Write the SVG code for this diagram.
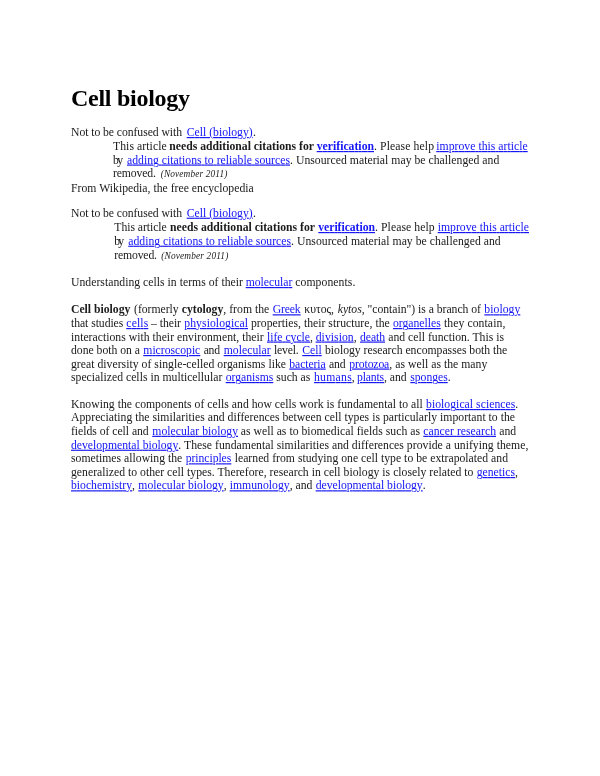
<svg xmlns="http://www.w3.org/2000/svg" width="600" height="776" viewBox="0 0 600 776">
<style>
text{font-family:"Liberation Serif","Times New Roman",serif;font-size:11.7px;fill:#1a1a1a;white-space:pre}
.t{font-size:24px;font-weight:bold;fill:#000}
.b{font-weight:bold}
.i{font-style:italic}
.d{font-style:italic;font-size:9.3px}
.a{fill:#1414f5;text-decoration:underline}
</style>
<defs><filter id="soft" x="0" y="0" width="100%" height="100%"><feGaussianBlur stdDeviation="0.3"/></filter></defs>
<rect width="600" height="776" fill="#fff"/>
<g filter="url(#soft)">
<text class="t" x="71" y="106" textLength="119">Cell biology</text>

<g id="notice-1">
<text x="71" y="136" textLength="111">Not to be confused with</text><text class="a" x="186.7" y="136" textLength="66">Cell (biology)</text><text x="253" y="136">.</text>
<text x="113" y="150" textLength="53.7">This article</text><text class="b" x="169.3" y="150" textLength="144.7">needs additional citations for</text><text class="a b" x="316.7" y="150" textLength="57.3">verification</text><text x="374" y="150" textLength="60">. Please help</text><text class="a" x="436.3" y="150" textLength="91.4">improve this article</text>
<text x="113" y="163.5" textLength="10">by</text><text class="a" x="127" y="163.5" textLength="163">adding citations to reliable sources</text><text x="290" y="163.5" textLength="209.3">. Unsourced material may be challenged and</text>
<text x="113" y="177.3" textLength="43">removed.</text><text class="d" x="160.7" y="177.3" textLength="66.6">(November 2011)</text>
<text x="71" y="191.7" textLength="182.7">From Wikipedia, the free encyclopedia</text>
</g>

<g id="notice-2">
<text x="71" y="216.7" textLength="111">Not to be confused with</text><text class="a" x="186.7" y="216.7" textLength="66">Cell (biology)</text><text x="253" y="216.7">.</text>
<text x="114.3" y="231" textLength="52.4">This article</text><text class="b" x="170" y="231" textLength="145">needs additional citations for</text><text class="a b" x="318.3" y="231" textLength="56.7">verification</text><text x="375" y="231" textLength="59.7">. Please help</text><text class="a" x="437.7" y="231" textLength="91.3">improve this article</text>
<text x="114.3" y="244.7" textLength="9.7">by</text><text class="a" x="128.3" y="244.7" textLength="162.7">adding citations to reliable sources</text><text x="291" y="244.7" textLength="209.7">. Unsourced material may be challenged and</text>
<text x="114.3" y="258.7" textLength="42.7">removed.</text><text class="d" x="161.3" y="258.7" textLength="67">(November 2011)</text>
</g>

<g id="caption">
<text x="71" y="286" textLength="172">Understanding cells in terms of their</text><text class="a" x="245.7" y="286" textLength="46.6">molecular</text><text x="295.3" y="286" textLength="60">components.</text>
</g>

<g id="paragraph-1">
<text class="b" x="71" y="313.3" textLength="59.3">Cell biology</text><text x="134" y="313.3" textLength="44.7">(formerly</text><text class="b" x="181.7" y="313.3" textLength="41.6">cytology</text><text x="223.3" y="313.3" textLength="46">, from the</text><text class="a" x="272.7" y="313.3" textLength="28">Greek</text><text x="304.3" y="313.3" textLength="29.7">κυτος,</text><text class="i" x="337.7" y="313.3" textLength="24">kytos</text><text x="361.7" y="313.3" textLength="119.3">, "contain") is a branch of</text><text class="a" x="484.3" y="313.3" textLength="36">biology</text>
<text x="71" y="327" textLength="52.3">that studies</text><text class="a" x="126.3" y="327" textLength="22">cells</text><text x="151" y="327" textLength="30">– their</text><text class="a" x="184.3" y="327" textLength="63.7">physiological</text><text x="251" y="327" textLength="138.7">properties, their structure, the</text><text class="a" x="393" y="327" textLength="47.7">organelles</text><text x="444" y="327" textLength="61.3">they contain,</text>
<text x="71" y="340.5" textLength="192.7">interactions with their environment, their</text><text class="a" x="267" y="340.5" textLength="43">life cycle</text><text x="310" y="340.5">,</text><text class="a" x="315.7" y="340.5" textLength="38">division</text><text x="353.7" y="340.5">,</text><text class="a" x="360" y="340.5" textLength="25">death</text><text x="388.3" y="340.5" textLength="115.7">and cell function. This is</text>
<text x="71" y="354" textLength="69">done both on a</text><text class="a" x="143.3" y="354" textLength="57">microscopic</text><text x="203.7" y="354" textLength="16.3">and</text><text class="a" x="223.7" y="354" textLength="47">molecular</text><text x="274" y="354" textLength="24.7">level.</text><text class="a" x="302.3" y="354" textLength="19.4">Cell</text><text x="325" y="354" textLength="182.3">biology research encompasses both the</text>
<text x="71" y="367.5" textLength="215">great diversity of single-celled organisms like</text><text class="a" x="289.3" y="367.5" textLength="36.4">bacteria</text><text x="329" y="367.5" textLength="16.7">and</text><text class="a" x="349.3" y="367.5" textLength="40">protozoa</text><text x="389.3" y="367.5" textLength="98">, as well as the many</text>
<text x="71" y="381" textLength="151.3">specialized cells in multicellular</text><text class="a" x="225.7" y="381" textLength="47.6">organisms</text><text x="276.3" y="381" textLength="34">such as</text><text class="a" x="314" y="381" textLength="37.7">humans</text><text x="351.7" y="381">,</text><text class="a" x="357" y="381" textLength="27">plants</text><text x="384" y="381" textLength="22.7">, and</text><text class="a" x="410.3" y="381" textLength="37.4">sponges</text><text x="447.7" y="381">.</text>
</g>

<g id="paragraph-2">
<text x="71" y="408" textLength="351.7">Knowing the components of cells and how cells work is fundamental to all</text><text class="a" x="426" y="408" textLength="89.3">biological sciences</text><text x="515.3" y="408">.</text>
<text x="71" y="421.3" textLength="444">Appreciating the similarities and differences between cell types is particularly important to the</text>
<text x="71" y="434.8" textLength="77.7">fields of cell and</text><text class="a" x="152.3" y="434.8" textLength="85.7">molecular biology</text><text x="240.7" y="434.8" textLength="179.3">as well as to biomedical fields such as</text><text class="a" x="423.3" y="434.8" textLength="72.7">cancer research</text><text x="499.3" y="434.8" textLength="16.7">and</text>
<text class="a" x="71" y="448.7" textLength="107.3">developmental biology</text><text x="178.3" y="448.7" textLength="350">. These fundamental similarities and differences provide a unifying theme,</text>
<text x="71" y="462.3" textLength="111.3">sometimes allowing the</text><text class="a" x="185.7" y="462.3" textLength="45.6">principles</text><text x="234.7" y="462.3" textLength="273.3">learned from studying one cell type to be extrapolated and</text>
<text x="71" y="476" textLength="402.3">generalized to other cell types. Therefore, research in cell biology is closely related to</text><text class="a" x="476.7" y="476" textLength="38.3">genetics</text><text x="515" y="476">,</text>
<text class="a" x="71" y="489.3" textLength="61">biochemistry</text><text x="132" y="489.3">,</text><text class="a" x="138.3" y="489.3" textLength="85.4">molecular biology</text><text x="223.7" y="489.3">,</text><text class="a" x="229.7" y="489.3" textLength="60">immunology</text><text x="289.7" y="489.3" textLength="22.6">, and</text><text class="a" x="315.7" y="489.3" textLength="107">developmental biology</text><text x="422.7" y="489.3">.</text>
</g>
</g>
</svg>
